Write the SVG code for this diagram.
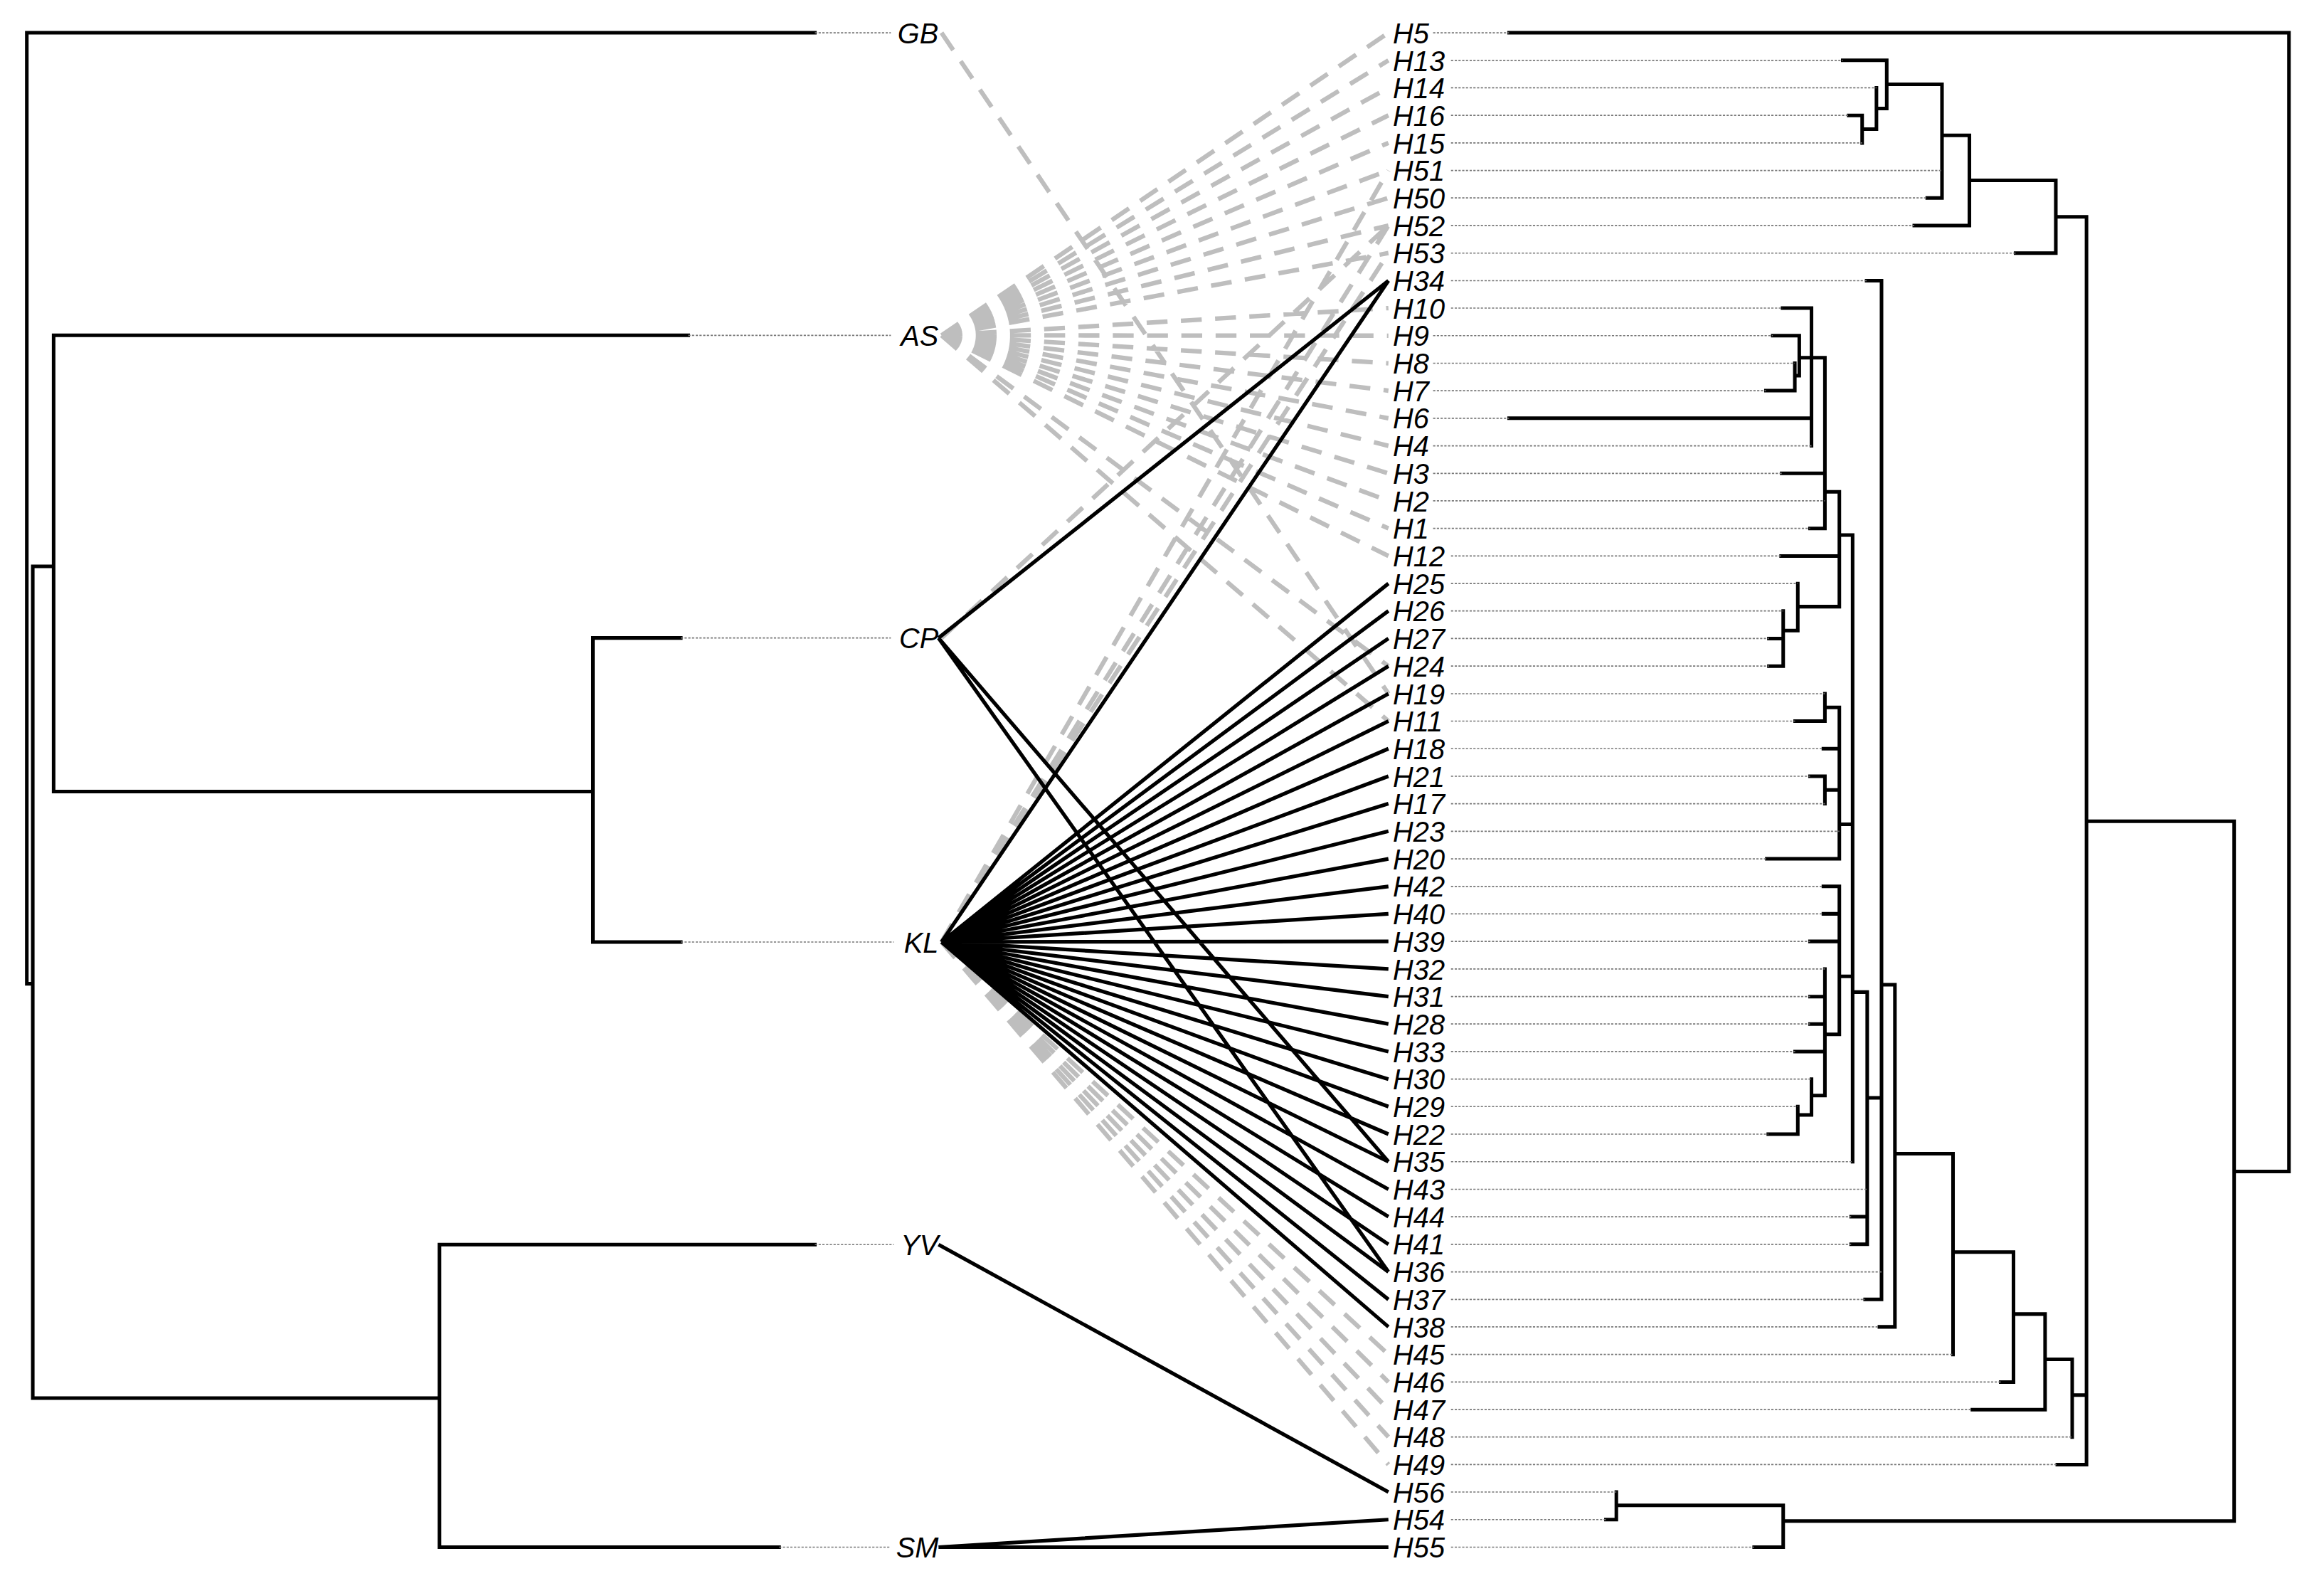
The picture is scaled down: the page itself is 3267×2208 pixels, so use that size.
<svg xmlns="http://www.w3.org/2000/svg" width="3267" height="2208" viewBox="0 0 3267 2208">
<style>
.t{font-family:"Liberation Sans",Arial,sans-serif;font-style:italic;font-size:19px;fill:#000}
.tr{fill:none;stroke:#000;stroke-width:2.4;stroke-linecap:square}
.dt{fill:none;stroke:#777;stroke-width:0.8;stroke-dasharray:1.5 1}
.bk{fill:none;stroke:#000;stroke-width:2.5}
.gr{fill:none;stroke:#bebebe;stroke-width:3;stroke-dasharray:14 9}
</style>
<rect width="3267" height="2208" fill="#fff"/>
<g transform="scale(2.0942,2.0949)">
<g id="left-tree">
<path class="tr" d="M18 22H547M18 22V660M18 660H22M22 380V938M22 380H36M36 225V531M36 225H462M36 531H398M398 428V632M398 428H457M398 632H457M22 938H295M295 835V1038M295 835H547M295 1038H523"/>
</g>
<g id="GB"><path class="dt" d="M547 22H598"/><text class="t" x="630" y="29" text-anchor="end">GB</text></g>
<g id="AS"><path class="dt" d="M462 225H598"/><text class="t" x="630" y="232" text-anchor="end">AS</text></g>
<g id="CP"><path class="dt" d="M457 428H598"/><text class="t" x="630" y="435" text-anchor="end">CP</text></g>
<g id="KL"><path class="dt" d="M457 632H600"/><text class="t" x="630" y="639" text-anchor="end">KL</text></g>
<g id="YV"><path class="dt" d="M547 835H600"/><text class="t" x="630" y="842" text-anchor="end">YV</text></g>
<g id="SM"><path class="dt" d="M523 1038H598"/><text class="t" x="630" y="1045" text-anchor="end">SM</text></g>
<g id="right-tree">
<path class="tr" d="M1013 22H1536.5V786H1499.7M1499.7 551V1020.5M1400.6 551H1499.7M1197 1020.5H1499.7
M1237 40.5H1266.5V72.8M1259.6 58.9V86.6M1241 77.4H1250V95.9M1250 86.6H1259.6M1259.6 72.8H1266.5
M1266.5 56.6H1303.6V132.8H1293.7M1303.6 90.8H1322V151.3H1285M1322 121H1380V169.8H1353M1380 145.5H1400.6V982.6H1381
M1391 936H1400.6M1391 912V964.1M1372.8 912H1391M1372.8 881.6V945.7H1324M1351.6 881.6H1372.8M1351.6 840V927.2H1343
M1311 840H1351.6M1311 774V908.7M1272 774H1311M1272 660.7V890.2H1261.6M1263 660.7H1272M1253 188.3H1263V871.8H1252
M1253.4 736.5H1263M1253.4 665.6V834.8H1242.6M1242.6 816.3H1253.4M1243.6 665.6H1253.4M1243.6 359V779.4
M1234.7 359H1243.6M1234.7 553H1243.6M1234.7 655H1243.6
M1196.6 206.7H1216V299.1M1013 280.6H1216M1190 225.2H1207.8V252M1204.8 243.7V262.1H1185.4M1204.8 252H1207.8
M1207.8 240H1225M1225 240V354.5H1215M1196 317.6H1225M1225 330H1234.7V407H1206.8M1195.6 373H1234.7
M1206.8 391.5V423H1197M1197 409.9V446.9H1187.4M1187.4 428.4H1197
M1234.7 474.6V576.2H1186M1225 465.4V483.8H1205M1225 474.6H1234.7M1224 502.3H1234.7M1215 520.8H1225V539.2M1225 530H1234.7
M1224 594.7H1234.7V694M1224 613.1H1234.7M1215 631.6H1234.7M1225 694H1234.7M1225 650.1V735M1215 668.6H1225M1215 687H1225M1205 705.5H1225
M1216 735H1225M1216 724V748M1206.8 748H1216M1206.8 742.4V760.9H1187
M1078 1019.5H1085V1001M1085 1010H1197V1038H1177.5"/>
</g>
<g id="H5"><path class="dt" d="M962 22H1013"/><text class="t" x="935" y="29">H5</text></g>
<g id="H13"><path class="dt" d="M974 40.5H1237"/><text class="t" x="935" y="47.5">H13</text></g>
<g id="H14"><path class="dt" d="M974 58.9H1259.6"/><text class="t" x="935" y="65.9">H14</text></g>
<g id="H16"><path class="dt" d="M974 77.4H1241"/><text class="t" x="935" y="84.4">H16</text></g>
<g id="H15"><path class="dt" d="M974 95.9H1250"/><text class="t" x="935" y="102.9">H15</text></g>
<g id="H51"><path class="dt" d="M974 114.4H1303.6"/><text class="t" x="935" y="121.4">H51</text></g>
<g id="H50"><path class="dt" d="M974 132.8H1293.7"/><text class="t" x="935" y="139.8">H50</text></g>
<g id="H52"><path class="dt" d="M974 151.3H1285"/><text class="t" x="935" y="158.3">H52</text></g>
<g id="H53"><path class="dt" d="M974 169.8H1353"/><text class="t" x="935" y="176.8">H53</text></g>
<g id="H34"><path class="dt" d="M974 188.3H1253"/><text class="t" x="935" y="195.3">H34</text></g>
<g id="H10"><path class="dt" d="M974 206.7H1196.6"/><text class="t" x="935" y="213.7">H10</text></g>
<g id="H9"><path class="dt" d="M962 225.2H1190"/><text class="t" x="935" y="232.2">H9</text></g>
<g id="H8"><path class="dt" d="M962 243.7H1204.8"/><text class="t" x="935" y="250.7">H8</text></g>
<g id="H7"><path class="dt" d="M962 262.1H1185.4"/><text class="t" x="935" y="269.1">H7</text></g>
<g id="H6"><path class="dt" d="M962 280.6H1013"/><text class="t" x="935" y="287.6">H6</text></g>
<g id="H4"><path class="dt" d="M962 299.1H1216"/><text class="t" x="935" y="306.1">H4</text></g>
<g id="H3"><path class="dt" d="M962 317.6H1196"/><text class="t" x="935" y="324.6">H3</text></g>
<g id="H2"><path class="dt" d="M962 336H1225"/><text class="t" x="935" y="343">H2</text></g>
<g id="H1"><path class="dt" d="M962 354.5H1215"/><text class="t" x="935" y="361.5">H1</text></g>
<g id="H12"><path class="dt" d="M974 373H1195.6"/><text class="t" x="935" y="380">H12</text></g>
<g id="H25"><path class="dt" d="M974 391.5H1206.8"/><text class="t" x="935" y="398.5">H25</text></g>
<g id="H26"><path class="dt" d="M974 409.9H1197"/><text class="t" x="935" y="416.9">H26</text></g>
<g id="H27"><path class="dt" d="M974 428.4H1187.4"/><text class="t" x="935" y="435.4">H27</text></g>
<g id="H24"><path class="dt" d="M974 446.9H1187.4"/><text class="t" x="935" y="453.9">H24</text></g>
<g id="H19"><path class="dt" d="M974 465.4H1225"/><text class="t" x="935" y="472.4">H19</text></g>
<g id="H11"><path class="dt" d="M974 483.8H1205"/><text class="t" x="935" y="490.8">H11</text></g>
<g id="H18"><path class="dt" d="M974 502.3H1224"/><text class="t" x="935" y="509.3">H18</text></g>
<g id="H21"><path class="dt" d="M974 520.8H1215"/><text class="t" x="935" y="527.8">H21</text></g>
<g id="H17"><path class="dt" d="M974 539.2H1225"/><text class="t" x="935" y="546.2">H17</text></g>
<g id="H23"><path class="dt" d="M974 557.7H1234.7"/><text class="t" x="935" y="564.7">H23</text></g>
<g id="H20"><path class="dt" d="M974 576.2H1186"/><text class="t" x="935" y="583.2">H20</text></g>
<g id="H42"><path class="dt" d="M974 594.7H1224"/><text class="t" x="935" y="601.7">H42</text></g>
<g id="H40"><path class="dt" d="M974 613.1H1224"/><text class="t" x="935" y="620.1">H40</text></g>
<g id="H39"><path class="dt" d="M974 631.6H1215"/><text class="t" x="935" y="638.6">H39</text></g>
<g id="H32"><path class="dt" d="M974 650.1H1225"/><text class="t" x="935" y="657.1">H32</text></g>
<g id="H31"><path class="dt" d="M974 668.6H1215"/><text class="t" x="935" y="675.6">H31</text></g>
<g id="H28"><path class="dt" d="M974 687H1215"/><text class="t" x="935" y="694">H28</text></g>
<g id="H33"><path class="dt" d="M974 705.5H1205"/><text class="t" x="935" y="712.5">H33</text></g>
<g id="H30"><path class="dt" d="M974 724H1216"/><text class="t" x="935" y="731">H30</text></g>
<g id="H29"><path class="dt" d="M974 742.4H1206.8"/><text class="t" x="935" y="749.4">H29</text></g>
<g id="H22"><path class="dt" d="M974 760.9H1187"/><text class="t" x="935" y="767.9">H22</text></g>
<g id="H35"><path class="dt" d="M974 779.4H1243.6"/><text class="t" x="935" y="786.4">H35</text></g>
<g id="H43"><path class="dt" d="M974 797.9H1253.4"/><text class="t" x="935" y="804.9">H43</text></g>
<g id="H44"><path class="dt" d="M974 816.3H1242.6"/><text class="t" x="935" y="823.3">H44</text></g>
<g id="H41"><path class="dt" d="M974 834.8H1242.6"/><text class="t" x="935" y="841.8">H41</text></g>
<g id="H36"><path class="dt" d="M974 853.3H1263"/><text class="t" x="935" y="860.3">H36</text></g>
<g id="H37"><path class="dt" d="M974 871.8H1252"/><text class="t" x="935" y="878.8">H37</text></g>
<g id="H38"><path class="dt" d="M974 890.2H1261.6"/><text class="t" x="935" y="897.2">H38</text></g>
<g id="H45"><path class="dt" d="M974 908.7H1311"/><text class="t" x="935" y="915.7">H45</text></g>
<g id="H46"><path class="dt" d="M974 927.2H1343"/><text class="t" x="935" y="934.2">H46</text></g>
<g id="H47"><path class="dt" d="M974 945.7H1324"/><text class="t" x="935" y="952.7">H47</text></g>
<g id="H48"><path class="dt" d="M974 964.1H1391"/><text class="t" x="935" y="971.1">H48</text></g>
<g id="H49"><path class="dt" d="M974 982.6H1381"/><text class="t" x="935" y="989.6">H49</text></g>
<g id="H56"><path class="dt" d="M974 1001H1085"/><text class="t" x="935" y="1008">H56</text></g>
<g id="H54"><path class="dt" d="M974 1019.5H1078"/><text class="t" x="935" y="1026.5">H54</text></g>
<g id="H55"><path class="dt" d="M974 1038H1177.5"/><text class="t" x="935" y="1045">H55</text></g>
<g id="connectors">
<path class="gr" d="M632 22L932 465.4
M632 225L932 22M632 225L932 40.5M632 225L932 58.9M632 225L932 77.4M632 225L932 95.9M632 225L932 114.4M632 225L932 132.8M632 225L932 151.3M632 225L932 169.8
M632 225L932 206.7M632 225L932 225.2M632 225L932 243.7M632 225L932 262.1M632 225L932 280.6M632 225L932 299.1M632 225L932 317.6M632 225L932 336M632 225L932 354.5M632 225L932 373
M632 225L932 446.9M632 225L932 483.8
M632 428L932 151.3
M632 632L932 114.4M632 632L932 151.3M632 632L932 169.8
M632 632L932 908.7M632 632L932 927.2M632 632L932 945.7M632 632L932 964.1M632 632L932 982.6"/>
<path class="bk" d="M630 428L932 188.3M630 428L932 779.4M630 428L932 853.3
M632 632L932 188.3
M632 632L932 391.5M632 632L932 409.9M632 632L932 428.4M632 632L932 446.9M632 632L932 465.4M632 632L932 483.8M632 632L932 502.3M632 632L932 520.8M632 632L932 539.2M632 632L932 557.7M632 632L932 576.2M632 632L932 594.7M632 632L932 613.1M632 632L932 631.6M632 632L932 650.1M632 632L932 668.6M632 632L932 687M632 632L932 705.5M632 632L932 724M632 632L932 742.4M632 632L932 760.9M632 632L932 779.4M632 632L932 797.9M632 632L932 816.3M632 632L932 834.8M632 632L932 853.3M632 632L932 871.8M632 632L932 890.2
M630 835L932 1001M630 1038L932 1019.5M630 1038L932 1038"/>
</g>
</g>
</svg>
